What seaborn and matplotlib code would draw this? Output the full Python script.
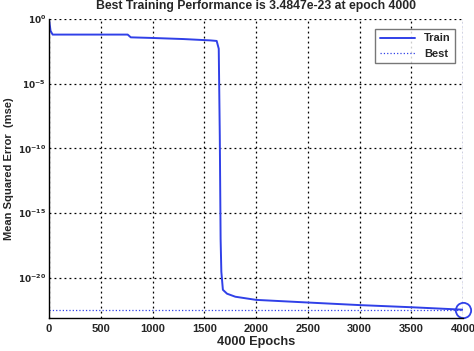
import numpy as np
import matplotlib
matplotlib.use("Agg")
import matplotlib.pyplot as plt
import matplotlib.ticker as mticker
import seaborn as sns
import pandas as pd

# training curve (epoch, mse)
epochs = [0, 15, 35, 760, 790, 1000, 1300, 1560, 1620, 1640, 1650, 1658, 1665,
          1680, 1720, 1800, 2000, 2500, 3000, 3500, 4000]
mse = [9e-1, 1.2e-1, 6.2e-2, 6.2e-2, 3.8e-2, 3.4e-2, 2.8e-2, 2.2e-2, 2.0e-2,
       5e-3, 1e-9, 1e-17, 3e-20, 1.2e-21, 6e-22, 3.5e-22, 2.0e-22, 1.25e-22,
       7.9e-23, 5.4e-23, 3.4847e-23]
best_epoch = 4000
best_mse = 3.4847e-23

xticks = [0, 500, 1000, 1500, 2000, 2500, 3000, 3500, 4000]
yexps = [0, -5, -10, -15, -20]

sns.set_style("white")
plt.rcParams['font.family'] = ['Liberation Sans', 'DejaVu Sans']
plt.rcParams['font.weight'] = 'bold'

blue = '#3040e8'

fig = plt.figure(figsize=(4.74, 3.51), dpi=100)
ax = fig.add_axes([0.1034, 0.094, 0.8734, 0.852])

df = pd.DataFrame({'epoch': epochs, 'mse': mse})
sns.lineplot(data=df, x='epoch', y='mse', ax=ax, color=blue, linewidth=1.4, label='Train')
ax.axhline(best_mse, color=blue, linestyle=':', linewidth=0.9, label='Best')
ax.axvline(best_epoch, color=blue, linestyle=':', linewidth=0.9)
ax.plot([best_epoch], [best_mse], marker='o', markersize=11, markerfacecolor='none',
        markeredgecolor=blue, markeredgewidth=1.3, clip_on=False)

ax.set_yscale('log')
ax.set_xlim(0, 4000)
ax.set_ylim(10 ** -23.1, 1)
ax.set_xticks(xticks)
ax.set_xticklabels([str(t) for t in xticks], fontsize=8, fontweight='bold')
ax.yaxis.set_major_locator(mticker.FixedLocator([10.0 ** e for e in yexps]))
ax.yaxis.set_minor_locator(mticker.NullLocator())
ax.set_yticklabels([r'$\mathbf{10^{%d}}$' % e for e in yexps], fontsize=6.5)

ax.grid(True, color='black', linestyle=(0, (1.5, 2.5)), linewidth=0.9)
ax.tick_params(axis='both', which='major', length=3, direction='in', pad=4)
ax.tick_params(axis='y', pad=2)
for side in ['top', 'right']:
    ax.spines[side].set_visible(False)
for side in ['left', 'bottom']:
    ax.spines[side].set_color('black')
    ax.spines[side].set_linewidth(1.0)

ax.set_title('Best Training Performance is 3.4847e-23 at epoch 4000',
             fontsize=8.8, fontweight='bold', pad=7)
ax.set_xlabel('4000 Epochs', fontsize=9.2, fontweight='bold', labelpad=2)
ax.set_ylabel('Mean Squared Error  (mse)', fontsize=8, fontweight='bold')
ax.yaxis.set_label_coords(-0.085, 0.5)

leg = ax.legend(loc='upper right', fontsize=8, frameon=True, fancybox=False,
                edgecolor='#555555', handlelength=3.2, borderpad=0.4,
                bbox_to_anchor=(0.995, 0.985))
leg.get_frame().set_linewidth(1.0)

plt.savefig('out.png', dpi=100)
